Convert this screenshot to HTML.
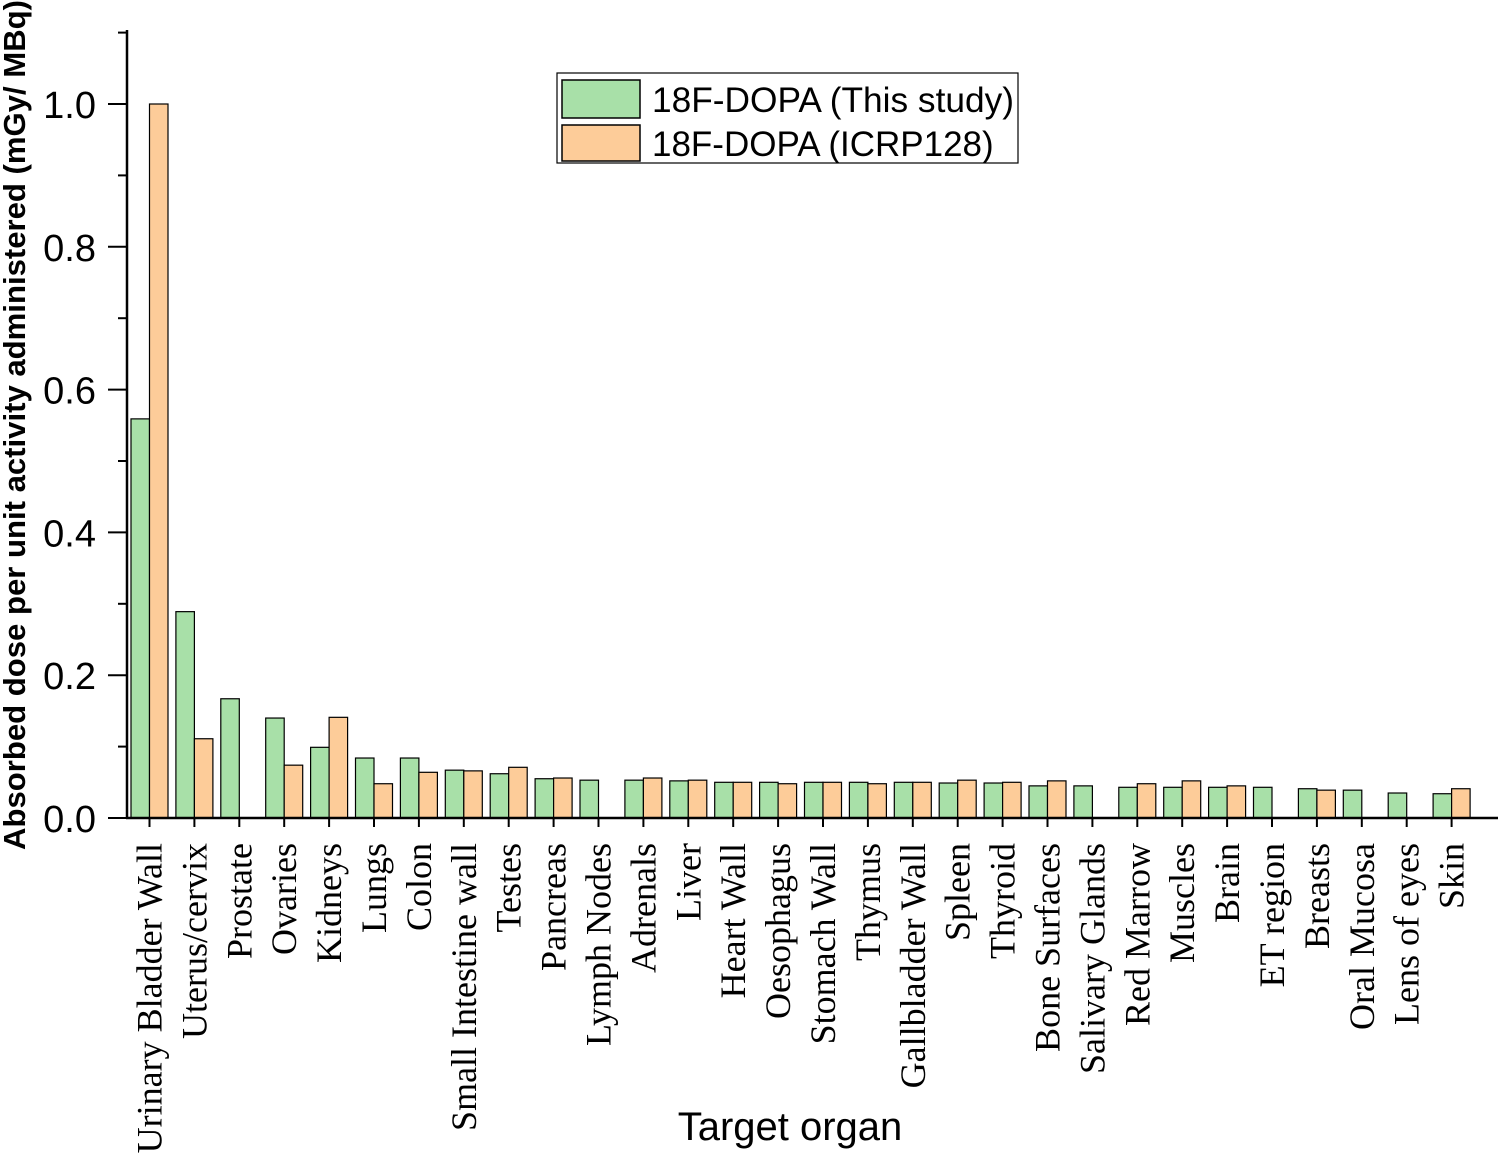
<!DOCTYPE html>
<html><head><meta charset="utf-8"><style>
html,body{margin:0;padding:0;background:#fff;}
svg{display:block;}
</style></head><body>
<svg id="chart" width="1500" height="1157" xmlns="http://www.w3.org/2000/svg">
<g id="bars"></g>
<g id="axes"></g>
<text transform="translate(25,425) rotate(-90)" text-anchor="middle" font-family="Liberation Sans, sans-serif" font-weight="bold" font-size="31" textLength="850" lengthAdjust="spacingAndGlyphs">Absorbed dose per unit activity administered (mGy/ MBq)</text>
<text x="790" y="1140" text-anchor="middle" font-family="Liberation Sans, sans-serif" font-size="40">Target organ</text>
<g>
<rect x="557" y="73" width="461" height="90" fill="#fff" stroke="#000" stroke-width="1.2"/>
<g>
<rect x="562" y="80" width="78" height="38" fill="#a8e0a8" stroke="#000" stroke-width="1.5"/>
<text x="652" y="112" font-family="Liberation Sans, sans-serif" font-size="35" textLength="362" lengthAdjust="spacingAndGlyphs">18F-DOPA (This study)</text></g>
<g>
<rect x="562" y="125" width="78" height="36" fill="#fdcc99" stroke="#000" stroke-width="1.5"/>
<text x="652" y="156" font-family="Liberation Sans, sans-serif" font-size="35">18F-DOPA (ICRP128)</text></g>
</g>
</svg>
<script>
const categories=["Urinary Bladder Wall","Uterus/cervix","Prostate","Ovaries","Kidneys","Lungs","Colon","Small Intestine wall","Testes","Pancreas","Lymph Nodes","Adrenals","Liver","Heart Wall","Oesophagus","Stomach Wall","Thymus","Gallbladder Wall","Spleen","Thyroid","Bone Surfaces","Salivary Glands","Red Marrow","Muscles","Brain","ET region","Breasts","Oral Mucosa","Lens of eyes","Skin"];
const thisStudy=[0.559,0.289,0.167,0.14,0.099,0.084,0.084,0.067,0.062,0.055,0.053,0.053,0.052,0.05,0.05,0.05,0.05,0.05,0.049,0.049,0.045,0.045,0.043,0.043,0.043,0.043,0.041,0.039,0.035,0.034];
const icrp128=[1.0,0.111,null,0.074,0.141,0.048,0.064,0.066,0.071,0.056,null,0.056,0.053,0.05,0.048,0.05,0.048,0.05,0.053,0.05,0.052,null,0.048,0.052,0.045,null,0.039,null,null,0.041];
const yTicks=[0.0,0.2,0.4,0.6,0.8,1.0];
const yMinor=[0.1,0.3,0.5,0.7,0.9];
const NS="http://www.w3.org/2000/svg";
const y0=818, pxPer=714;
function yS(v){return y0-v*pxPer;}
function xC(i){return 149.5+i*44.9;}
const bw=18.5;
const bars=document.getElementById('bars'), axes=document.getElementById('axes');
function mk(t,a,p){const e=document.createElementNS(NS,t);for(const k in a)e.setAttribute(k,a[k]);p.appendChild(e);return e;}
categories.forEach((c,i)=>{
  const g=thisStudy[i];
  if(g!=null){const r=mk('rect',{x:xC(i)-bw,y:yS(g),width:bw,height:y0-yS(g),fill:'#a8e0a8',stroke:'#000','stroke-width':1.2},bars);
  
  }
  const o=icrp128[i];
  if(o!=null){const r=mk('rect',{x:xC(i),y:yS(o),width:bw,height:y0-yS(o),fill:'#fdcc99',stroke:'#000','stroke-width':1.2},bars);
  
  }
  mk('line',{x1:xC(i),x2:xC(i),y1:y0,y2:y0+9,stroke:'#000','stroke-width':2},axes);
  const t=mk('text',{transform:`translate(${xC(i)+12},843) rotate(-90)`,'text-anchor':'end','font-family':'Liberation Serif, serif','font-size':36},axes);
  t.textContent=c;
  
  
});
mk('line',{x1:127,x2:127,y1:30,y2:y0+1,stroke:'#000','stroke-width':2.5},axes);
mk('line',{x1:126,x2:1498,y1:y0,y2:y0,stroke:'#000','stroke-width':2.5},axes);
yTicks.forEach(v=>{
  mk('line',{x1:108,x2:127,y1:yS(v),y2:yS(v),stroke:'#000','stroke-width':2},axes);
  const t=mk('text',{x:96,y:yS(v)+14,'text-anchor':'end','font-family':'Liberation Sans, sans-serif','font-size':38},axes);
  t.textContent=v.toFixed(1);
  
  
});
yMinor.forEach(v=>mk('line',{x1:118,x2:127,y1:yS(v),y2:yS(v),stroke:'#000','stroke-width':2},axes));
mk('line',{x1:118,x2:127,y1:yS(1.1),y2:yS(1.1),stroke:'#000','stroke-width':2},axes);
</script>
</body></html>
